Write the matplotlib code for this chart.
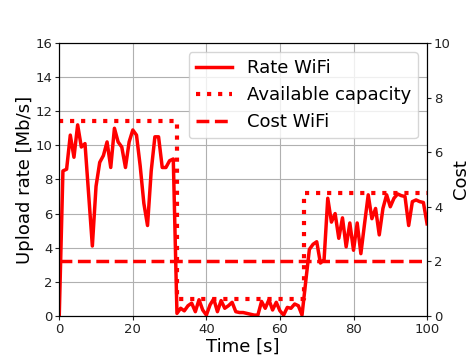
import numpy as np
import matplotlib
matplotlib.use("Agg")
import matplotlib.pyplot as plt

time_s = list(range(0, 101))
rate_wifi = [
    0.0, 8.5, 8.6, 10.6, 9.3, 11.2, 9.9, 10.1, 7.1, 4.1,
    7.6, 9.0, 9.4, 10.2, 8.7, 11.0, 10.2, 9.9, 8.7, 10.2,
    10.9, 10.6, 8.8, 6.6, 5.3, 8.5, 10.5, 10.5, 8.7, 8.7,
    9.1, 9.2, 0.15, 0.45, 0.3, 0.6, 0.75, 0.25, 0.95, 0.35,
    0.05, 0.65, 1.0, 0.25, 0.9, 0.45, 0.6, 0.8, 0.25, 0.2,
    0.2, 0.15, 0.1, 0.05, 0.05, 0.85, 0.45, 0.95, 0.35, 0.8,
    0.3, 0.05, 0.5, 0.45, 0.7, 0.6, 0.05, 2.0, 3.9, 4.2,
    4.35, 3.1, 3.3, 6.9, 5.5, 6.0, 4.55, 5.75, 4.05, 5.45,
    3.85, 5.45, 3.65, 5.4, 7.1, 5.7, 6.3, 4.75, 6.3, 7.1,
    6.4, 6.9, 7.15, 7.05, 7.0, 5.3, 6.7, 6.8, 6.7, 6.65,
    5.4,
]
cap_time = [0, 32, 32, 66.5, 66.5, 100]
cap_value = [11.4, 11.4, 1.0, 1.0, 7.2, 7.2]
cost_time = [0, 100]
cost_value = [2, 2]

fig = plt.figure(figsize=(4.74, 3.55), dpi=100)
ax = fig.add_axes([0.125, 0.11, 0.776, 0.769])
ax2 = ax.twinx()

l1, = ax.plot(time_s, rate_wifi, color='red', lw=2.5, label='Rate WiFi')
l2, = ax.plot(cap_time, cap_value, color='red', lw=3, ls=':', label='Available capacity')
l3, = ax2.plot(cost_time, cost_value, color='red', lw=2.5, ls='--', label='Cost WiFi')

ax.set_xlim(0, 100)
ax.set_ylim(0, 16)
ax.set_yticks(range(0, 17, 2))
ax.set_xticks(range(0, 101, 20))
ax2.set_ylim(0, 10)
ax2.set_yticks(range(0, 11, 2))
ax.grid(True, color='#b0b0b0', lw=0.8)
ax.set_axisbelow(True)
for a in (ax, ax2):
    a.tick_params(length=3, pad=2, labelsize=9.5, colors='#222222')

ax.set_xlabel('Time [s]', fontsize=13, labelpad=1)
ax.set_ylabel('Upload rate [Mb/s]', fontsize=13, labelpad=1)
ax2.set_ylabel('Cost', fontsize=13, labelpad=1)

ax2.legend(handles=[l1, l2, l3], loc='upper right', fontsize=13,
           handlelength=2.0)

fig.savefig('out.png', dpi=100)
